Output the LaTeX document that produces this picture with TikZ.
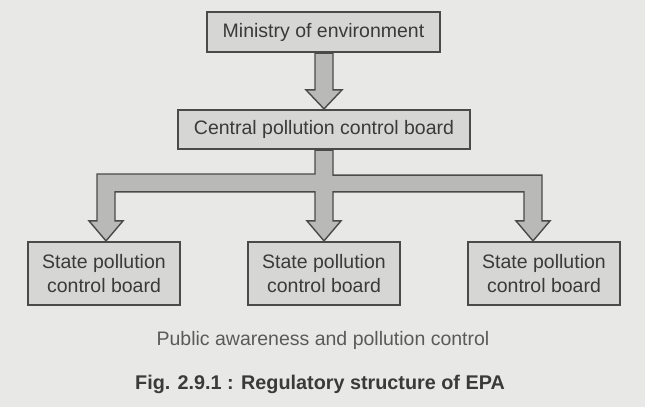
\documentclass[tikz,border=0pt]{standalone}
\usepackage{fontspec}
\setmainfont{Liberation Sans}
\usetikzlibrary{calc,backgrounds}
\definecolor{paper}{HTML}{E8E8E6}
\definecolor{boxfill}{HTML}{D6D6D4}
\definecolor{arrowfill}{HTML}{B9B9B7}
\definecolor{edge}{HTML}{4A4A48}
\definecolor{ink}{HTML}{3A3A3A}
\definecolor{lightink}{HTML}{5A5A5A}
\tikzset{
  orgbox/.style={draw=edge, line width=2.2pt, fill=boxfill, text=ink,
    inner sep=0pt, align=center, font=\fontsize{19.5}{24}\selectfont},
  blockarrow/.style={draw=edge, line width=1.4pt, fill=arrowfill, line join=miter},
}
\begin{document}
\begin{tikzpicture}[x=1pt,y=-1pt]
\useasboundingbox (0,0) rectangle (645,407);
% boxes
\node[orgbox, minimum width=233pt, minimum height=40pt] (min) at (323.5,32) {Ministry of environment};
\node[orgbox, minimum width=292pt, minimum height=39pt] (cen) at (324,129.5) {Central pollution control board};
\node[orgbox, minimum width=152pt, minimum height=63pt] (s1) at (104,273.5) {State pollution\\control board};
\node[orgbox, minimum width=152pt, minimum height=63pt] (s2) at (324,273.5) {State pollution\\control board};
\node[orgbox, minimum width=152pt, minimum height=63pt] (s3) at (544,273.5) {State pollution\\control board};
% texts
\node[text=lightink, font=\fontsize{19.5}{24}\selectfont] (pub) at (323,340) {Public awareness and pollution control};
\node[text=ink, font=\fontsize{19.8}{24}\bfseries] (cap) at (320,384) {Fig. 2.9.1 : Regulatory structure of EPA};
% connector points
\coordinate (t1) at (s1.north -| 106,0);
\coordinate (t2) at (s2.north -| 324,0);
\coordinate (t3) at (s3.north -| 533,0);
\coordinate (c0) at (cen.south -| 324,0);
\coordinate (m0) at (min.south -| 324,0);
\coordinate (tc) at (cen.north -| 324,0);
\begin{pgfonlayer}{background}
\fill[paper] (0,0) rectangle (645,407);
% top arrow
\draw[blockarrow] ($(m0)+(-9,0)$) -- ($(tc)+(-9,-19)$) -- ($(tc)+(-18,-19)$) -- (tc)
  -- ($(tc)+(18,-19)$) -- ($(tc)+(9,-19)$) -- ($(m0)+(9,0)$) -- cycle;
% branching arrow
\draw[blockarrow] ($(c0)+(-9,0)$) |- (97,174) |- ($(t1)+(-9,-20)$) -- ($(t1)+(-17,-20)$) -- (t1)
  -- ($(t1)+(17,-20)$) -- ($(t1)+(9,-20)$) |- ($(t2)+(-9,-49)$) -- ($(t2)+(-9,-20)$)
  -- ($(t2)+(-17,-20)$) -- (t2) -- ($(t2)+(17,-20)$) -- ($(t2)+(9,-20)$)
  |- ($(t3)+(-9,-49)$) -- ($(t3)+(-9,-20)$) -- ($(t3)+(-17,-20)$) -- (t3)
  -- ($(t3)+(17,-20)$) -- ($(t3)+(9,-20)$) |- ($(c0)+(9,25)$) -- ($(c0)+(9,0)$) -- cycle;
\end{pgfonlayer}
\end{tikzpicture}
\end{document}
